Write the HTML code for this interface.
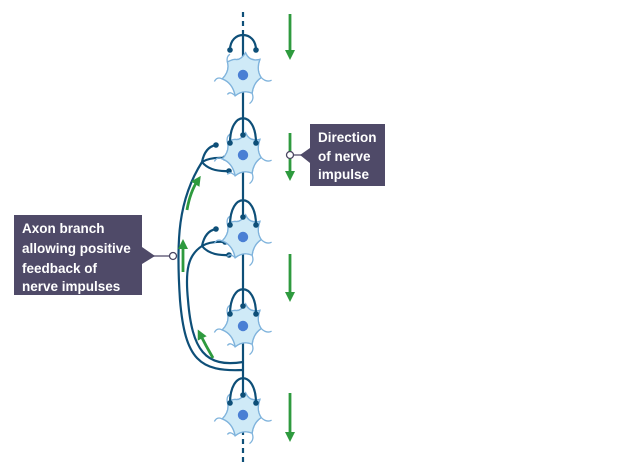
<!DOCTYPE html>
<html><head><style>
body{margin:0;background:#fff}
svg{display:block}
text{font-family:"Liberation Sans",Arial,sans-serif;font-weight:bold;font-size:13.5px;fill:#fff}
</style></head><body>
<svg width="624" height="464" viewBox="0 0 624 464" xmlns="http://www.w3.org/2000/svg">
<defs>
<g id="body" transform="scale(1.3)">
<path d="M-6,-12 Q-2,-11 2,-17 Q5,-10 13,-12 Q10,-4 14,2 Q18,6 22,4 M14,2 Q8,6 7,14 Q9,19 5,22 M7,14 Q0,11 -6,16 Q-10,12 -12,15 M-6,16 Q-8,6 -16,3 Q-20,1 -22,5 M-16,3 Q-10,-3 -12,-10 Q-13,-14 -10,-16 M-12,-10 Q-8,-12 -6,-12" fill="none" stroke="#7fb3dc" stroke-width="1"/>
<path d="M-6,-12 Q-2,-11 2,-17 Q5,-10 13,-12 Q10,-4 14,2 Q8,6 7,14 Q0,11 -6,16 Q-8,6 -16,3 Q-10,-3 -12,-10 Q-8,-12 -6,-12Z" fill="#cfeaf7" stroke="#7fb3dc" stroke-width="1"/>
<circle r="4" fill="#4a7fd4"/>
</g>
<g id="term3" fill="none" stroke="#0e4f78" stroke-width="2.2">
<path d="M-13,-12 C-13,-45 13,-45 13,-12"/>
<circle cx="-13" cy="-12" r="2.8" fill="#0e4f78" stroke="none"/>
<circle cx="13" cy="-12" r="2.8" fill="#0e4f78" stroke="none"/>
<circle cx="0" cy="-20" r="2.8" fill="#0e4f78" stroke="none"/>
</g>
<marker id="ah" markerWidth="10" markerHeight="10" refX="5" refY="5" orient="auto" markerUnits="userSpaceOnUse"><path d="M0,0 L10,5 L0,10Z" fill="#2e9a3e"/></marker>
</defs>
<line x1="243" y1="12" x2="243" y2="35" stroke="#0e4f78" stroke-width="2.2" stroke-dasharray="5,4"/>
<line x1="243" y1="430" x2="243" y2="462" stroke="#0e4f78" stroke-width="2.2" stroke-dasharray="5,4"/>
<line x1="243" y1="35" x2="243" y2="430" stroke="#0e4f78" stroke-width="2.2"/>
<g fill="none" stroke="#0e4f78" stroke-width="2.2">
<path d="M243,370 C200,372 185,360 180,300 C176,240 178,200 202,162"/>
<path d="M243,362 C205,368 192,350 188,300 C185,270 188,255 202,246"/>
<path d="M202,162 Q205,147 216,145 M202,162 Q210,157 225,158 M202,162 Q210,172 229,171"/>
<path d="M202,246 Q205,231 216,229 M202,246 Q210,241 225,242 M202,246 Q210,256 229,255"/>
</g>
<g fill="#0e4f78">
<circle cx="216" cy="145" r="2.8"/><circle cx="225" cy="158" r="2.8"/><circle cx="229" cy="171" r="2.8"/>
<circle cx="216" cy="229" r="2.8"/><circle cx="225" cy="242" r="2.8"/><circle cx="229" cy="255" r="2.8"/>
</g>
<path d="M230,50 C230,30 256,30 256,50" fill="none" stroke="#0e4f78" stroke-width="2.2"/>
<circle cx="230" cy="50" r="2.8" fill="#0e4f78"/><circle cx="256" cy="50" r="2.8" fill="#0e4f78"/>
<use href="#body" x="243" y="75"/>
<use href="#body" x="243" y="155"/><use href="#term3" x="243" y="155"/>
<use href="#body" x="243" y="237"/><use href="#term3" x="243" y="237"/>
<use href="#body" x="243" y="326"/><use href="#term3" x="243" y="326"/>
<use href="#body" x="243" y="415"/><use href="#term3" x="243" y="415"/>
<g stroke="#2e9a3e" stroke-width="2.8" fill="none">
<line x1="290" y1="14" x2="290" y2="55" marker-end="url(#ah)"/>
<line x1="290" y1="133" x2="290" y2="176" marker-end="url(#ah)"/>
<line x1="290" y1="254" x2="290" y2="297" marker-end="url(#ah)"/>
<line x1="290" y1="393" x2="290" y2="437" marker-end="url(#ah)"/>
<path d="M187,210 Q190,192 198,180" marker-end="url(#ah)"/>
<line x1="183" y1="272" x2="183" y2="244" marker-end="url(#ah)"/>
<path d="M213,358 Q206,346 200,334" marker-end="url(#ah)"/>
</g>
<line x1="150" y1="256" x2="173" y2="256" stroke="#6b6780" stroke-width="1.5"/>
<circle cx="173" cy="256" r="3.5" fill="#fff" stroke="#4a4662" stroke-width="1.3"/>
<path d="M14,215 H142 V247 L155,256 L142,264 V295 H14Z" fill="#4f4a68"/>
<text x="22" y="233">Axon branch</text>
<text x="22" y="253">allowing positive</text>
<text x="22" y="273">feedback of</text>
<text x="22" y="291">nerve impulses</text>
<line x1="290" y1="155" x2="305" y2="155" stroke="#6b6780" stroke-width="1.5"/>
<circle cx="290" cy="155" r="3.5" fill="#fff" stroke="#4a4662" stroke-width="1.3"/>
<path d="M310,124 H385 V186 H310 V163 L300,155 L310,148Z" fill="#4f4a68"/>
<text x="318" y="142">Direction</text>
<text x="318" y="161">of nerve</text>
<text x="318" y="179">impulse</text>
</svg>
</body></html>
